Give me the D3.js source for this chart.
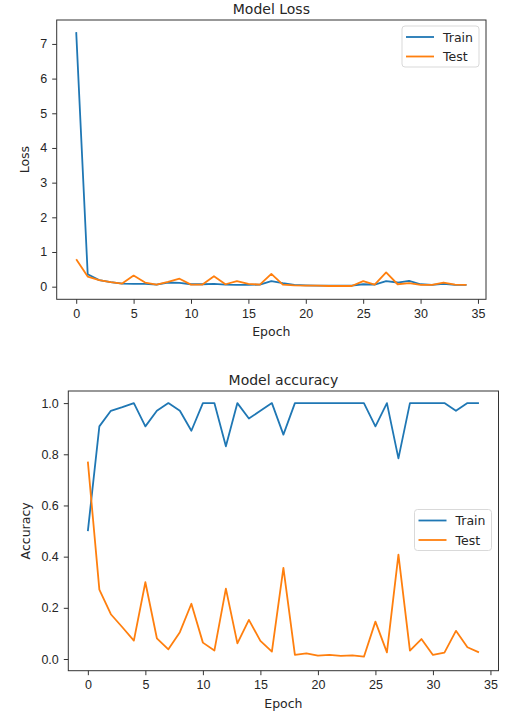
<!DOCTYPE html>
<html>
<head>
<meta charset="utf-8">
<script src="https://cdn.jsdelivr.net/npm/d3@7"></script>
<style>
  body { margin: 0; background: #fff; }
  svg { font-family: "DejaVu Sans", sans-serif; }
  .axis text { font-size: 12.5px; fill: #262626; }
  .axis line, .axis path { stroke: #333; }
  .title { font-size: 14px; fill: #262626; }
  .label { font-size: 12.5px; fill: #262626; }
</style>
</head>
<body>
<script>
var epochs = [0,1,2,3,4,5,6,7,8,9,10,11,12,13,14,15,16,17,18,19,20,21,22,23,24,25,26,27,28,29,30,31,32,33,34];

var lossTrain = [7.34,0.36,0.19,0.13,0.09,0.08,0.08,0.06,0.12,0.11,0.07,0.07,0.08,0.06,0.05,0.05,0.06,0.16,0.10,0.05,0.04,0.03,0.03,0.03,0.03,0.07,0.06,0.16,0.12,0.17,0.07,0.05,0.08,0.05,0.05];
var lossTest = [0.79,0.29,0.19,0.13,0.09,0.32,0.12,0.06,0.14,0.23,0.06,0.06,0.30,0.07,0.16,0.08,0.06,0.37,0.06,0.04,0.03,0.03,0.02,0.02,0.02,0.16,0.06,0.41,0.07,0.10,0.05,0.05,0.12,0.06,0.05];

var accTrain = [0.50,0.909,0.970,0.984,1.0,0.909,0.970,1.0,0.970,0.892,1.0,1.0,0.831,1.0,0.940,0.970,1.0,0.877,1.0,1.0,1.0,1.0,1.0,1.0,1.0,0.909,1.0,0.784,1.0,1.0,1.0,1.0,0.970,1.0,1.0];
var accTest = [0.771,0.271,0.175,0.124,0.072,0.300,0.081,0.038,0.105,0.216,0.064,0.033,0.275,0.061,0.153,0.071,0.029,0.356,0.016,0.022,0.013,0.016,0.012,0.014,0.009,0.146,0.026,0.408,0.033,0.078,0.016,0.025,0.110,0.046,0.026];

var xTicks = [0,5,10,15,20,25,30,35];
var lossTicks = [0,1,2,3,4,5,6,7];
var accTicks = [0,0.2,0.4,0.6,0.8,1.0];
var seriesNames = ['Train', 'Test'];

const WIDTH = 521;
const HEIGHT = 720;
var colors = ['#1f77b4', '#ff7f0e'];

var svg = d3.select('body').append('svg')
  .attr('width', WIDTH)
  .attr('height', HEIGHT);

var drawPanel = function(opt) {
  var x = d3.scaleLinear().domain([-1.7, 35.7]).range([opt.left, opt.right]);
  var y = d3.scaleLinear().domain(opt.yDomain).range([opt.bottom, opt.top]);
  var g = svg.append('g');

  var line = d3.line()
    .x(function(d, i) { return x(epochs[i]); })
    .y(function(d) { return y(d); });

  opt.series.forEach(function(s, k) {
    g.append('path')
      .datum(s)
      .attr('fill', 'none')
      .attr('stroke', colors[k])
      .attr('stroke-width', 1.8)
      .attr('stroke-linejoin', 'round')
      .attr('d', line);
  });

  var xAxis = d3.axisBottom(x).tickValues(xTicks).tickSize(4.5).tickPadding(5).tickSizeOuter(0);
  g.append('g').attr('class', 'axis')
    .attr('transform', 'translate(0,' + opt.bottom + ')')
    .call(xAxis)
    .select('.domain').remove();

  var yAxis = d3.axisLeft(y).tickValues(opt.yTicks).tickSize(4.5).tickPadding(5).tickSizeOuter(0)
    .tickFormat(opt.yFormat);
  g.append('g').attr('class', 'axis')
    .attr('transform', 'translate(' + opt.left + ',0)')
    .call(yAxis)
    .select('.domain').remove();

  g.append('rect')
    .attr('x', opt.left).attr('y', opt.top)
    .attr('width', opt.right - opt.left).attr('height', opt.bottom - opt.top)
    .attr('fill', 'none').attr('stroke', '#333').attr('stroke-width', 1);

  g.append('text').attr('class', 'title')
    .attr('x', (opt.left + opt.right) / 2).attr('y', opt.top - 6)
    .attr('text-anchor', 'middle').text(opt.title);

  g.append('text').attr('class', 'label')
    .attr('x', (opt.left + opt.right) / 2).attr('y', opt.bottom + 37)
    .attr('text-anchor', 'middle').text('Epoch');

  g.append('text').attr('class', 'label')
    .attr('transform', 'translate(' + opt.yLabelX + ',' + (opt.top + opt.bottom) / 2 + ') rotate(-90)')
    .attr('text-anchor', 'middle').text(opt.yLabel);

  // legend
  var lg = g.append('g').attr('transform', 'translate(' + opt.legend[0] + ',' + opt.legend[1] + ')');
  lg.append('rect')
    .attr('width', 77).attr('height', 41).attr('rx', 3)
    .attr('fill', '#fff').attr('fill-opacity', 0.8)
    .attr('stroke', '#d9d9d9').attr('stroke-width', 1);
  seriesNames.forEach(function(name, k) {
    var yy = 11 + k * 19.5;
    lg.append('line')
      .attr('x1', 4).attr('x2', 32).attr('y1', yy).attr('y2', yy)
      .attr('stroke', colors[k]).attr('stroke-width', 1.8);
    lg.append('text').attr('class', 'label')
      .attr('x', 41).attr('y', yy + 4.5).text(name);
  });
};

drawPanel({
  left: 56.7, right: 486, top: 20, bottom: 299.3,
  yDomain: [-0.364, 7.69], yTicks: lossTicks, yFormat: d3.format('d'),
  series: [lossTrain, lossTest],
  title: 'Model Loss', yLabel: 'Loss', yLabelX: 29,
  legend: [402, 26]
});

drawPanel({
  left: 68.3, right: 498.5, top: 391, bottom: 670.7,
  yDomain: [-0.0457, 1.0473], yTicks: accTicks, yFormat: d3.format('.1f'),
  series: [accTrain, accTest],
  title: 'Model accuracy', yLabel: 'Accuracy', yLabelX: 30,
  legend: [414.5, 509.5]
});
</script>
</body>
</html>
